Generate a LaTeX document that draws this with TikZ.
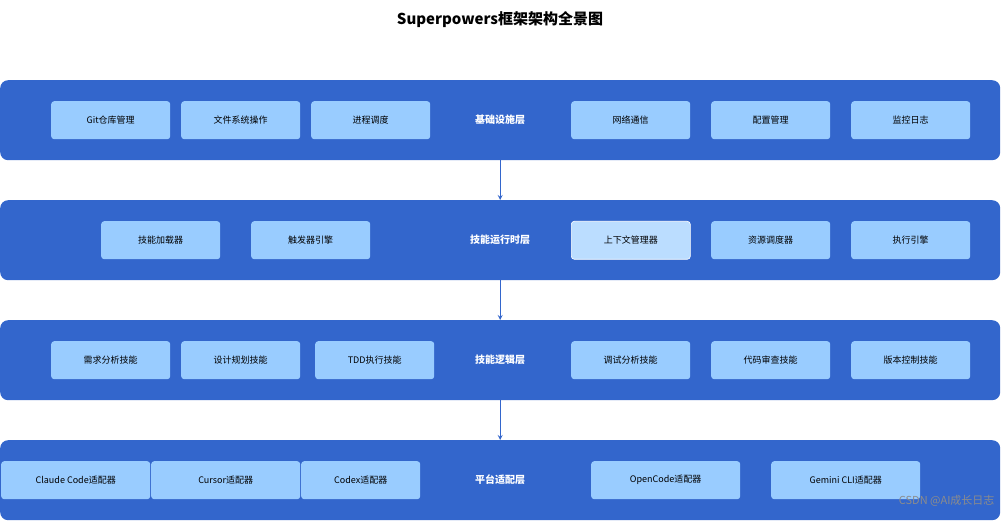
\documentclass[tikz,border=0pt]{standalone}
\usepackage{fontspec}
\setmainfont{Noto Sans CJK SC}
\begin{document}
\begin{tikzpicture}[x=1pt,y=-1pt,
 layer/.style={draw=none,fill=layerblue,rounded corners=8pt,minimum width=1000pt,minimum height=80pt,anchor=north west},
 box/.style={fill=boxblue,draw=none,rounded corners=3pt,minimum height=38pt,anchor=north west,font=\fontsize{9}{10}\selectfont,text=black},
 lbl/.style={text=white,font=\fontsize{10}{12}\selectfont\bfseries},
 arr/.style={draw=layerblue,line width=1.2pt,-stealth}]
\definecolor{layerblue}{HTML}{3366CC}
\definecolor{boxblue}{HTML}{99CCFF}
\definecolor{boxlight}{HTML}{BBDDFF}
\useasboundingbox (0,0) rectangle (1001,521);
\fill[white] (0,0) rectangle (1001,521);
\node[font=\fontsize{15}{18}\selectfont\bfseries] (title) at (500,20) {Superpowers框架架构全景图};
\node[layer] (L1) at (0,80) {};
\node[layer] (L2) at (0,200) {};
\node[layer] (L3) at (0,320) {};
\node[layer] (L4) at (0,440) {};
% layer 1
\node[box,minimum width=119pt] (a1) at (51,101) {Git仓库管理};
\node[box,minimum width=119pt] (a2) at (181,101) {文件系统操作};
\node[box,minimum width=119pt] (a3) at (311,101) {进程调度};
\node[lbl] (l1) at (500,120) {基础设施层};
\node[box,minimum width=119pt] (a4) at (571,101) {网络通信};
\node[box,minimum width=119pt] (a5) at (711,101) {配置管理};
\node[box,minimum width=119pt] (a6) at (851,101) {监控日志};
% layer 2
\node[box,minimum width=119pt] (b1) at (101,221) {技能加载器};
\node[box,minimum width=119pt] (b2) at (251,221) {触发器引擎};
\node[lbl] (l2) at (500,240) {技能运行时层};
\node[box,minimum width=119pt,fill=boxlight,draw=white,line width=0.6pt] (b3) at (571,221) {上下文管理器};
\node[box,minimum width=119pt] (b4) at (711,221) {资源调度器};
\node[box,minimum width=119pt] (b5) at (851,221) {执行引擎};
% layer 3
\node[box,minimum width=119pt] (c1) at (51,341) {需求分析技能};
\node[box,minimum width=119pt] (c2) at (181,341) {设计规划技能};
\node[box,minimum width=119pt] (c3) at (315,341) {TDD执行技能};
\node[lbl] (l3) at (500,360) {技能逻辑层};
\node[box,minimum width=119pt] (c4) at (571,341) {调试分析技能};
\node[box,minimum width=119pt] (c5) at (711,341) {代码审查技能};
\node[box,minimum width=119pt] (c6) at (851,341) {版本控制技能};
% layer 4
\node[box,minimum width=149pt] (d1) at (1,461) {Claude Code适配器};
\node[box,minimum width=149pt] (d2) at (151,461) {Cursor适配器};
\node[box,minimum width=119pt] (d3) at (301,461) {Codex适配器};
\node[lbl] (l4) at (500,480) {平台适配层};
\node[box,minimum width=149pt] (d4) at (591,461) {OpenCode适配器};
\node[box,minimum width=149pt] (d5) at (771,461) {Gemini CLI适配器};
\draw[arr] (L1.south) -- (L2.north);
\draw[arr] (L2.south) -- (L3.north);
\draw[arr] (L3.south) -- (L4.north);
\node[text=black!45,font=\fontsize{11}{12}\selectfont,anchor=east] (wm) at (998,501) {CSDN @AI成长日志};
\end{tikzpicture}
\end{document}
